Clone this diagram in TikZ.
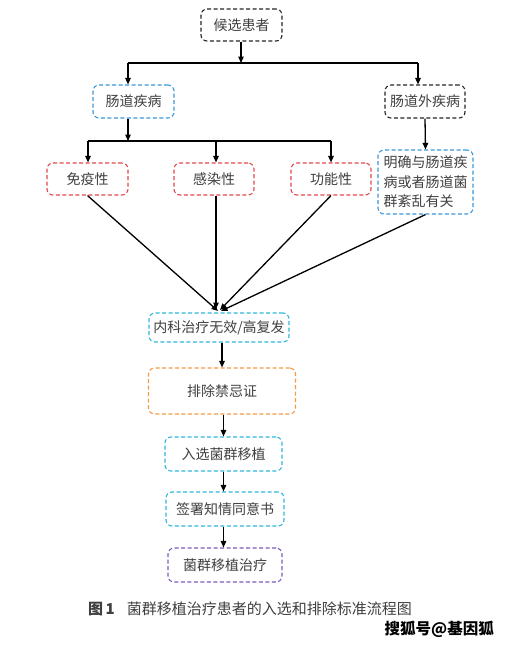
\documentclass[tikz,border=0pt]{standalone}
\usepackage{fontspec}
\newfontfamily\cjk{Noto Sans CJK SC}
\usetikzlibrary{arrows.meta}
\definecolor{txtgray}{HTML}{404040}
\definecolor{bblue}{HTML}{3A97DA}
\definecolor{bred}{HTML}{E5484A}
\definecolor{bcyan}{HTML}{2FB8DC}
\definecolor{borange}{HTML}{F39A45}
\definecolor{bpurple}{HTML}{7D5BBE}
\tikzset{
  boxbase/.style={draw, line width=1.1pt, dash pattern=on 4pt off 2.5pt, rounded corners=6pt,
    text=txtgray, font=\cjk\fontsize{14}{19.5}\selectfont, inner sep=2pt, align=center},
  blackbox/.style={boxbase, draw=black!85},
  bluebox/.style={boxbase, draw=bblue},
  redbox/.style={boxbase, draw=bred},
  cyanbox/.style={boxbase, draw=bcyan},
  orangebox/.style={boxbase, draw=borange},
  purplebox/.style={boxbase, draw=bpurple},
  conn/.style={line width=1.3pt, draw=black},
  arr/.style={conn, -{Triangle[length=6.5pt,width=5.5pt]}}
}
\begin{document}
\begin{tikzpicture}[x=1pt,y=-1pt]
\useasboundingbox[fill=white] (0,0) rectangle (508,645);
% nodes
\node[blackbox, minimum width=81pt, minimum height=32pt] (a) at (241.5,25) {候选患者};
\node[bluebox, minimum width=81pt, minimum height=33pt] (b) at (133.5,101.5) {肠道疾病};
\node[blackbox, minimum width=80pt, minimum height=33pt] (c) at (425,101.5) {肠道外疾病};
\node[redbox, minimum width=81pt, minimum height=32pt] (d) at (87.5,179) {免疫性};
\node[redbox, minimum width=80pt, minimum height=32pt] (e) at (214,179) {感染性};
\node[redbox, minimum width=80pt, minimum height=32pt] (f) at (331,179) {功能性};
\node[bluebox, minimum width=95pt, minimum height=64pt, align=left, inner sep=3pt] (g) at (425.5,182) {明确与肠道疾\\病或者肠道菌\\群紊乱有关};
\node[cyanbox, minimum width=140pt, minimum height=29pt, inner sep=1pt] (h) at (219,327.5) {内科治疗无效/高复发};
\node[orangebox, minimum width=147pt, minimum height=46pt] (i) at (222,391) {排除禁忌证};
\node[cyanbox, minimum width=117pt, minimum height=34pt] (j) at (223.5,454) {入选菌群移植};
\node[cyanbox, minimum width=118pt, minimum height=34pt] (k) at (225,509) {签署知情同意书};
\node[purplebox, minimum width=114pt, minimum height=34pt] (l) at (225,565) {菌群移植治疗};
% junction coordinates
\coordinate (j1) at (241,63);
\coordinate (j1l) at (128,63);
\coordinate (j1r) at (418,63);
\coordinate (j2) at (128,141);
\coordinate (j2l) at (88,141);
\coordinate (j2m) at (216,141);
\coordinate (j2r) at (331,141);
\coordinate (t1) at (218,311);
\coordinate (t2) at (216,309);
\coordinate (t3) at (220,310);
\coordinate (t4) at (221,311);
% connectors
\draw[arr] (a.south -| j1) -- (j1);
\draw[conn] (j1l) -- (j1r);
\draw[arr] (j1l) -- (j1l |- b.north);
\draw[arr] (j1r) -- (j1r |- c.north);
\draw[arr] (b.south -| j2) -- (j2);
\draw[conn] (j2l) -- (j2r);
\draw[arr] (j2l) -- (j2l |- d.north);
\draw[arr] (j2m) -- (j2m |- e.north);
\draw[arr] (j2r) -- (j2r |- f.north);
\draw[arr] (c.south) -- (g.north);
\draw[arr] (d.south) -- (t1);
\draw[arr] (e.south -| t2) -- (t2);
\draw[arr] (f.south) -- (t3);
\draw[arr] (g.south) -- (t4);
\draw[arr] (h.south -| i.north) -- (i.north);
\draw[arr] (i.south -| j.north) -- (j.north);
\draw[arr] (j.south) -- (k.north -| j.south);
\draw[arr] (k.south -| j.south) -- (l.north -| j.south);
% caption
\node[anchor=west, text=txtgray, font=\cjk\fontsize{15}{18}\selectfont, inner sep=0pt] (cap) at (88,609) {{\bfseries 图\,1}\hspace{12pt}菌群移植治疗患者的入选和排除标准流程图};
\node[anchor=east, text=black, font=\cjk\bfseries\fontsize{15.5}{18}\selectfont, inner sep=0pt] (wm) at (494,629) {搜狐号@基因狐};
\end{tikzpicture}
\end{document}
